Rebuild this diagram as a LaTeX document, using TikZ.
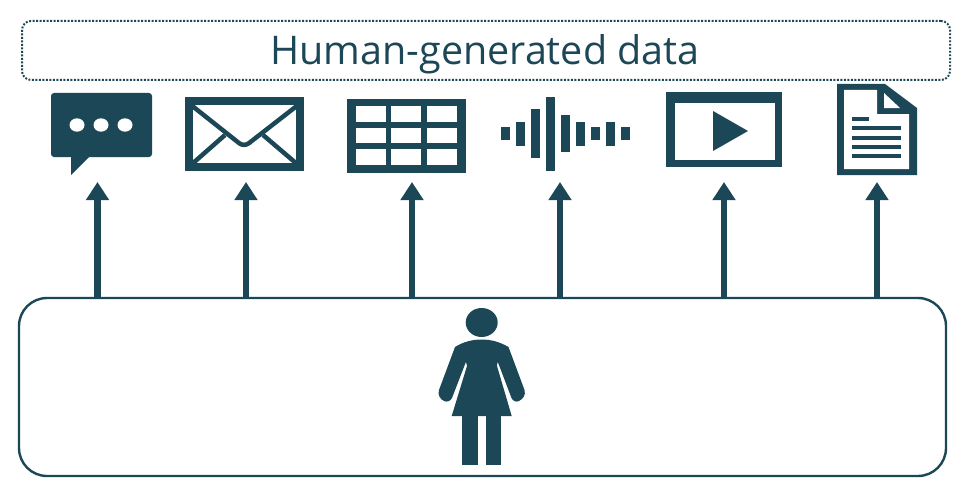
\documentclass[tikz,border=0pt]{standalone}
\usepackage{fontspec}
\setmainfont{Open Sans}
\usetikzlibrary{arrows.meta}
\definecolor{ink}{HTML}{1C4756}
\tikzset{
  box/.style={draw=ink,rectangle,inner sep=0pt,outer sep=0pt,fill=white},
  mainbox/.style={box,line width=2.4pt,rounded corners=28pt,minimum width=927pt,minimum height=178pt},
  titlebox/.style={box,line width=2pt,rounded corners=9pt,dash pattern=on 1.9pt off 1.6pt,minimum width=928pt,minimum height=59pt,
    text=ink,font=\fontsize{39.5pt}{41pt}\selectfont},
  up/.style={draw=ink,line width=6.5pt,-{Triangle[width=22pt,length=18pt]}},
  solid ink/.style={fill=ink,draw=none},
  paper/.style={fill=white,draw=none},
  inkline/.style={draw=ink,line width=4.5pt},
}
\begin{document}
\begin{tikzpicture}[x=1pt,y=-1pt]
\useasboundingbox (0,0) rectangle (975,495);
\fill[white] (0,0) rectangle (975,495);
\node[titlebox,text depth=0pt] (title) at (486,50.5) {};
\node[text=ink,font=\fontsize{39.5pt}{41pt}\selectfont,inner sep=0pt,anchor=base] (titletext) at (485,65) {Human-generated data};
\node[mainbox] (people) at (482.5,387) {};
% chat bubble
\fill[solid ink,rounded corners=3pt] (51,93) rectangle (152,157);
\fill[solid ink] (71,155) -- (71,175) -- (91,155) -- cycle;
\foreach \x in {77,101,125} \fill[paper] (\x,125) ellipse [x radius=7.5,y radius=6.7];
% envelope
\fill[solid ink] (185,97) rectangle (304,171);
\fill[paper] (193,105) rectangle (296,163);
\draw[inkline,rounded corners=6pt] (191,105) -- (244,147) -- (298,105);
\draw[inkline] (192,164) -- (225,135);
\draw[inkline] (297,164) -- (263,135);
% table
\fill[solid ink] (347,99) rectangle (466,173);
\foreach \xa/\xb in {356/386,391/421,427/457}
  \foreach \ya/\yb in {106/122,128/143,149/165}
    \fill[paper] (\xa,\ya) rectangle (\xb,\yb);
% audio
\foreach \xa/\ya/\yb in {501/127/140,516/122/146,531/109/158,546/97/171,561/115/152,576/122/146,591/127/140,606/122/146,621/127/140}
  \fill[solid ink] (\xa,\ya) rectangle (\xa+9,\yb);
% video
\fill[solid ink] (666,92) rectangle (782,167);
\fill[paper] (675,103) rectangle (775,160);
\fill[solid ink] (713,111) -- (713,151) -- (748,131) -- cycle;
% document
\fill[solid ink] (837,84) -- (885,84) -- (917,108) -- (917,175) -- (837,175) -- cycle;
\fill[paper] (844,90) -- (877,90) -- (877,114) -- (909,114) -- (909,169) -- (844,169) -- cycle;
\fill[paper] (884,93) -- (884,108) -- (900,108) -- cycle;
\fill[solid ink] (852,117) rectangle (869,121);
\foreach \y in {126,135.5,145,154} \fill[solid ink] (852,\y) rectangle (901,\y+4);
% person
\fill[solid ink] (481.7,322.5) ellipse [x radius=16,y radius=14.5];
\fill[solid ink] (455,347) .. controls (463,342) and (472,339.5) .. (481.7,339.5)
  .. controls (491,339.5) and (500,342) .. (508.5,347)
  -- (524.5,390) .. controls (526,395) and (523,399) .. (519,401)
  .. controls (516,402.5) and (513,401) .. (511.5,398)
  -- (497.7,361.7) -- (497,366) -- (511.7,416) -- (451.7,416) -- (467,366) -- (466,361.7)
  -- (452,398) .. controls (450.5,401) and (447,402.5) .. (444,401)
  .. controls (440,399) and (437.5,395) .. (439,390) -- cycle;
\fill[solid ink] (462.3,414) rectangle (477.7,465);
\fill[solid ink] (485.7,414) rectangle (501,465);
% arrow targets
\foreach \n/\x in {a/97.5,b/246,c/412,d/560,e/724,f/877}
  \coordinate (tip\n) at (\x,182);
\foreach \n in {a,b,c,d,e,f}
  \draw[up] (people.north -| tip\n) -- (tip\n);
\end{tikzpicture}
\end{document}
